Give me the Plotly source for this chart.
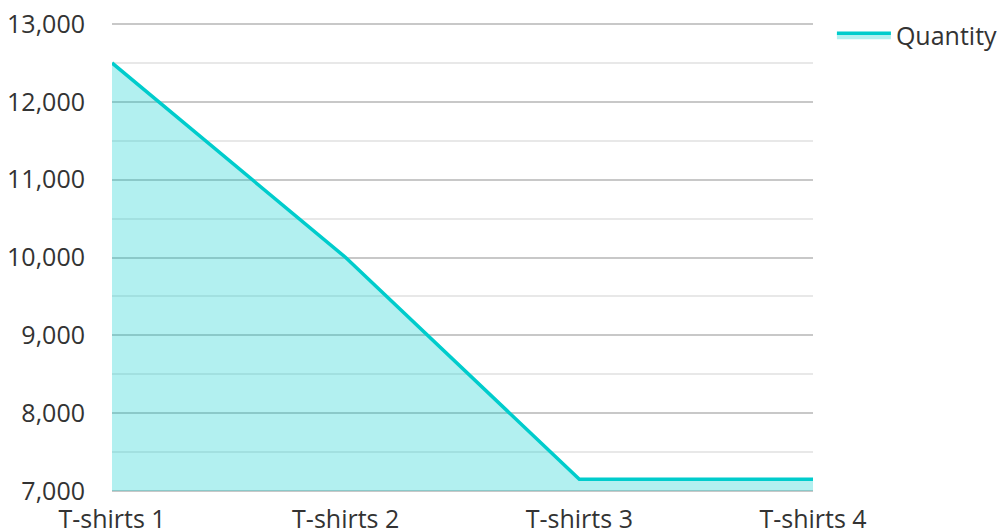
import plotly.graph_objects as go

categories = ["T-shirts 1", "T-shirts 2", "T-shirts 3", "T-shirts 4"]
quantity = [12500, 10000, 7150, 7150]
y_ticks = [7000, 8000, 9000, 10000, 11000, 12000, 13000]
y_tick_labels = ["7,000", "8,000", "9,000", "10,000", "11,000", "12,000", "13,000"]

FONT = "Open Sans"
TXT = "#333333"
FS = 25

# plot area padded by 2px each side so the edge gridlines (7,000 / 13,000) are drawn
PAD_PX = 2
PLOT_H = 532 - 22 - 39
units_per_px = (y_ticks[-1] - y_ticks[0]) / (PLOT_H - 2 * PAD_PX)
y_range = [y_ticks[0] - PAD_PX * units_per_px, y_ticks[-1] + PAD_PX * units_per_px]

fig = go.Figure()
fig.add_trace(go.Scatter(
    x=categories, y=[y_ticks[0]] * len(categories), mode="lines",
    line=dict(width=0, color="rgba(0,0,0,0)"), showlegend=False, hoverinfo="skip",
))
fig.add_trace(go.Scatter(
    x=categories, y=quantity, name="Quantity", mode="lines",
    line=dict(color="#00cccc", width=3.5),
    fill="tonexty", fillcolor="rgba(0,204,204,0.3)",
))

fig.update_layout(
    width=1000, height=532,
    margin=dict(l=112, r=187, t=22, b=39, autoexpand=False),
    paper_bgcolor="white", plot_bgcolor="white",
    font=dict(family=FONT, size=FS, color=TXT),
    showlegend=True,
    legend=dict(x=1.027, xanchor="left", y=1.02, yanchor="top",
                font=dict(family=FONT, size=FS, color=TXT),
                itemwidth=54,
                bgcolor="rgba(0,0,0,0)"),
    xaxis=dict(type="category", range=[0, 3], showgrid=False, zeroline=False,
               showline=False, ticks="", tickfont=dict(size=FS, color=TXT),
               ticklabelstandoff=9, ticklabeloverflow="allow"),
    yaxis=dict(range=y_range, tickvals=y_ticks, ticktext=y_tick_labels,
               showgrid=True, gridcolor="#c8c8c8", gridwidth=1.5,
               zeroline=False, showline=False, ticks="",
               tickfont=dict(size=FS, color=TXT), ticklabelstandoff=26,
               ticklabeloverflow="allow",
               minor=dict(dtick=500, tick0=7000, showgrid=True,
                          gridcolor="#e8e8e8", gridwidth=1.5)),
)

fig.write_html(
    "out.html",
    config={"displayModeBar": False},
    post_script="document.body.style.margin='0';document.body.style.overflow='hidden';",
)
